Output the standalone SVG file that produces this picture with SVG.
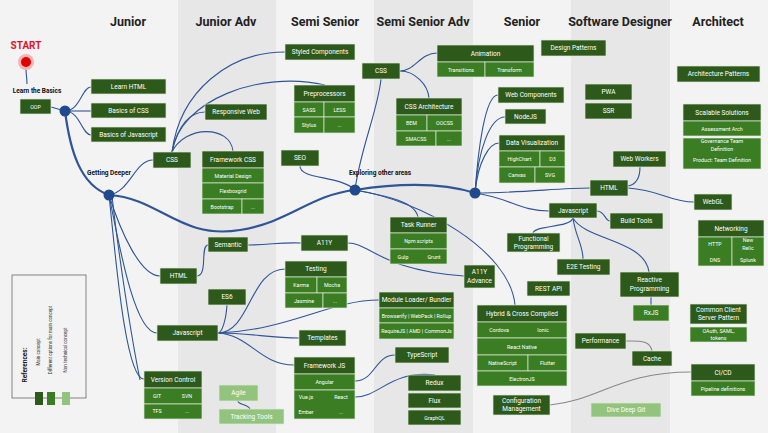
<svg xmlns="http://www.w3.org/2000/svg" width="768" height="433" viewBox="0 0 768 433">
<style>
.d{fill:#2d5a1b;stroke:#dfe8da;stroke-width:.7}
.m{fill:#3b7d23;stroke:#dfe8da;stroke-width:.7}
.l{fill:#93c47d;stroke:#dfe8da;stroke-width:.7}
text{font-family:Roboto,"Liberation Sans",sans-serif;fill:#fff;font-size:6.5px;text-anchor:middle;dominant-baseline:central}
.s{font-size:5.3px}
.h{font-size:12.5px;font-weight:bold;fill:#222}
.k{font-size:6.5px;font-weight:bold;fill:#111}
.c path{fill:none;stroke:#2f5597;stroke-width:1.1}
.c .sp{stroke-width:2.2}
.c .g{stroke:#888}
.hub{fill:#1f4a8c}
</style>
<rect width="768" height="433" fill="#f3f3f3"/>
<rect x="178" width="98" height="433" fill="#e7e7e7"/>
<rect x="374" width="99" height="433" fill="#e7e7e7"/>
<rect x="571" width="99" height="433" fill="#e7e7e7"/>
<g id="headers">
<text class="h" x="128" y="21">Junior</text>
<text class="h" x="226" y="21">Junior Adv</text>
<text class="h" x="325" y="21">Semi Senior</text>
<text class="h" x="423" y="21">Semi Senior Adv</text>
<text class="h" x="522" y="21">Senior</text>
<text class="h" x="620" y="21">Software Designer</text>
<text class="h" x="718" y="21">Architect</text>
</g>
<g class="c" id="connectors">
<path d="M26,68 C26,75 27,78 27,84"/>
<path class="sp" d="M65,111 C70,150 80,185 109,195"/>
<path class="sp" d="M109,195 C160,198 180,240 240,230 C290,222 310,195 355,190"/>
<path class="sp" d="M355,190 C400,183 440,182 475,193"/>
<path d="M51,107 L65,111"/>
<path d="M65,111 C80,111 82,87 91,87"/>
<path d="M65,111 L91,111"/>
<path d="M65,111 C80,111 82,135 91,135"/>
<path d="M109,195 C130,192 135,160 153,160"/>
<path d="M172,152 C180,90 230,52 285,52"/>
<path d="M172,152 C180,100 260,70 325,85"/>
<path d="M172,152 C178,125 190,112 205,112"/>
<path d="M172,152 C185,125 230,125 233,151"/>
<path d="M109,195 C120,230 140,276 160,276"/>
<path d="M109,195 C120,250 135,333 157,333"/>
<path d="M109,195 C115,250 125,379 144,379"/>
<path d="M112,196 C118,250 130,330 140,380"/>
<path d="M197,276 C208,276 200,245 208,245"/>
<path d="M248,245 C270,245 280,242 301,243"/>
<path d="M348,243 C370,243 380,270 464,276"/>
<path d="M227,305 C226,320 222,333 218,333"/>
<path d="M218,333 C250,333 250,269 285,269"/>
<path d="M218,333 C290,330 330,300 379,300"/>
<path d="M218,333 C250,333 270,338 299,338"/>
<path d="M218,333 C250,335 260,365 294,365"/>
<path d="M355,381 C375,381 375,355 395,355"/>
<path d="M355,397 C380,397 390,370 435,375"/>
<path d="M238,401 C238,405 248,404 250,409"/>
<path d="M300,166 C300,180 340,175 355,190"/>
<path d="M355,190 C360,150 378,110 381,79"/>
<path d="M400,71 C415,71 420,53 437,53"/>
<path d="M400,71 C415,71 428,85 429,98"/>
<path d="M355,190 C380,195 415,200 418,217"/>
<path d="M355,190 C420,200 510,250 515,305"/>
<path d="M475,193 C478,150 485,95 498,95"/>
<path d="M475,193 C478,150 490,117 505,117"/>
<path d="M475,193 C478,160 490,143 499,143"/>
<path d="M475,193 C520,193 560,188 590,188"/>
<path d="M628,188 C660,190 670,202 694,202"/>
<path d="M628,186 C638,184 640,175 640,167"/>
<path d="M475,193 C510,198 520,211 549,211"/>
<path d="M597,211 C605,211 605,221 610,221"/>
<path d="M573,218 C570,228 535,225 533,233"/>
<path d="M573,218 C575,235 583,245 583,259"/>
<path d="M573,218 C585,240 645,240 649,272"/>
<path d="M651,297 L651,305"/>
<path class="g" d="M626,341 C640,341 650,340 652,351"/>
<path class="g" d="M550,405 C600,400 620,372 691,372"/>
</g>
<g id="start"><text x="26" y="45" style="fill:#e0151f;font-weight:bold;font-size:10px">START</text><circle cx="26" cy="62" r="8" fill="#f5b5b5"/><circle cx="26" cy="62" r="5" fill="#e00000"/></g>
<g id="hubs"><circle class="hub" cx="65" cy="111" r="5.5"/><circle class="hub" cx="109" cy="195" r="5.5"/><circle class="hub" cx="355" cy="190" r="5.5"/><circle class="hub" cx="475" cy="193" r="5.5"/>
<text class="k" x="37" y="91">Learn the Basics</text><text class="k" x="109" y="173">Getting Deeper</text><text class="k" x="380" y="173">Exploring other areas</text></g>
<g id="oop"><rect class="d" x="20" y="99" width="31" height="15"/><text class="s" x="35.5" y="106.5">OOP</text></g>
<g id="learnhtml"><rect class="d" x="91" y="79" width="75" height="15"/><text x="128.5" y="86.5">Learn HTML</text></g>
<g id="basicscss"><rect class="d" x="91" y="103" width="75" height="15"/><text x="128.5" y="110.5">Basics of CSS</text></g>
<g id="basicsjs"><rect class="d" x="91" y="127" width="75" height="15"/><text x="128.5" y="134.5">Basics of Javascript</text></g>
<g id="css1"><rect class="d" x="153" y="152" width="38" height="16"/><text x="172" y="160">CSS</text></g>
<g id="fwcss"><rect class="d" x="202" y="151" width="62" height="17"/><text x="233" y="159.5">Framework CSS</text>
<rect class="m" x="202" y="168" width="62" height="15"/><text class="s" x="233" y="175.5">Material Design</text>
<rect class="m" x="202" y="183" width="62" height="16"/><text class="s" x="233" y="191">Flexboxgrid</text>
<rect class="m" x="202" y="199" width="40" height="15"/><text class="s" x="222" y="206.5">Bootstrap</text>
<rect class="m" x="242" y="199" width="22" height="15"/><text class="s" x="253" y="206.5">...</text></g>
<g id="responsive"><rect class="d" x="205" y="104" width="62" height="16"/><text x="236" y="112">Responsive Web</text></g>
<g id="styled"><rect class="d" x="285" y="44" width="70" height="16"/><text x="320" y="52">Styled Components</text></g>
<g id="preproc"><rect class="d" x="294" y="85" width="61" height="17"/><text x="324.5" y="93.5">Preprocessors</text>
<rect class="m" x="294" y="102" width="30" height="15"/><text class="s" x="309" y="109.5">SASS</text>
<rect class="m" x="324" y="102" width="31" height="15"/><text class="s" x="339.5" y="109.5">LESS</text>
<rect class="m" x="294" y="117" width="30" height="16"/><text class="s" x="309" y="125">Stylus</text>
<rect class="m" x="324" y="117" width="31" height="16"/><text class="s" x="339.5" y="125">...</text></g>
<g id="seo"><rect class="d" x="281" y="150" width="38" height="16"/><text x="300" y="158">SEO</text></g>
<g id="css2"><rect class="d" x="362" y="63" width="38" height="16"/><text x="381" y="71">CSS</text></g>
<g id="animation"><rect class="d" x="437" y="45" width="97" height="17"/><text x="485.5" y="53.5">Animation</text>
<rect class="m" x="437" y="62" width="48" height="15"/><text class="s" x="461" y="69.5">Transitions</text>
<rect class="m" x="485" y="62" width="49" height="15"/><text class="s" x="509.5" y="69.5">Transform</text></g>
<g id="cssarch"><rect class="d" x="396" y="98" width="66" height="17"/><text x="429" y="106.5">CSS Architecture</text>
<rect class="m" x="396" y="115" width="31" height="16"/><text class="s" x="411.5" y="123">BEM</text>
<rect class="m" x="427" y="115" width="35" height="16"/><text class="s" x="444.5" y="123">OOCSS</text>
<rect class="m" x="396" y="131" width="40" height="15"/><text class="s" x="416" y="138.5">SMACSS</text>
<rect class="m" x="436" y="131" width="26" height="15"/><text class="s" x="449" y="138.5">...</text></g>
<g id="designpatterns"><rect class="d" x="541" y="40" width="65" height="16"/><text x="573.5" y="48">Design Patterns</text></g>
<g id="webcomp"><rect class="d" x="498" y="87" width="66" height="16"/><text x="531" y="95">Web Components</text></g>
<g id="nodejs"><rect class="d" x="505" y="109" width="41" height="15"/><text x="525.5" y="116.5">NodeJS</text></g>
<g id="dataviz"><rect class="d" x="499" y="135" width="66" height="16"/><text x="532" y="143">Data Visualization</text>
<rect class="m" x="499" y="151" width="41" height="16"/><text class="s" x="519.5" y="159">HighChart</text>
<rect class="m" x="540" y="151" width="25" height="16"/><text class="s" x="552.5" y="159">D3</text>
<rect class="m" x="499" y="167" width="36" height="16"/><text class="s" x="517" y="175">Canvas</text>
<rect class="m" x="535" y="167" width="30" height="16"/><text class="s" x="550" y="175">SVG</text></g>
<g id="pwa"><rect class="d" x="585" y="84" width="47" height="16"/><text x="608.5" y="92">PWA</text></g>
<g id="ssr"><rect class="d" x="585" y="103" width="47" height="16"/><text x="608.5" y="111">SSR</text></g>
<g id="archpatterns"><rect class="d" x="677" y="66" width="83" height="16"/><text x="718.5" y="74">Architecture Patterns</text></g>
<g id="scalable"><rect class="d" x="683" y="104" width="78" height="17"/><text x="722" y="112.5">Scalable Solutions</text>
<rect class="m" x="683" y="121" width="78" height="15"/><text class="s" x="722" y="128.5">Assessment Arch</text>
<rect class="m" x="683" y="138" width="78" height="31"/><text class="s" x="722" y="141">Governance Team</text><text class="s" x="722" y="149">Definition</text><text class="s" x="722" y="160">Product: Team Definition</text></g>
<g id="webworkers"><rect class="d" x="613" y="151" width="53" height="16"/><text x="639.5" y="159">Web Workers</text></g>
<g id="html2"><rect class="d" x="590" y="180" width="38" height="16"/><text x="609" y="188">HTML</text></g>
<g id="webgl"><rect class="d" x="694" y="194" width="38" height="16"/><text x="713" y="202">WebGL</text></g>
<g id="js2"><rect class="d" x="549" y="203" width="48" height="15"/><text x="573" y="210.5">Javascript</text></g>
<g id="buildtools"><rect class="d" x="610" y="213" width="53" height="16"/><text x="636.5" y="221">Build Tools</text></g>
<g id="functional"><rect class="d" x="507" y="233" width="53" height="19"/><text x="533.5" y="238.5">Functional</text><text x="533.5" y="246.5">Programming</text></g>
<g id="e2e"><rect class="d" x="557" y="259" width="53" height="16"/><text x="583.5" y="267">E2E Testing</text></g>
<g id="reactive"><rect class="d" x="620" y="272" width="59" height="25"/><text x="649.5" y="280">Reactive</text><text x="649.5" y="289">Programming</text></g>
<g id="rxjs"><rect class="m" x="633" y="305" width="36" height="16"/><text x="651" y="313">RxJS</text></g>
<g id="networking"><rect class="d" x="698" y="220" width="66" height="17"/><text x="731" y="228.5">Networking</text>
<rect class="m" x="698" y="237" width="34" height="29"/><text class="s" x="715" y="244">HTTP</text><text class="s" x="715" y="260">DNS</text>
<rect class="m" x="732" y="237" width="32" height="29"/><text class="s" x="748" y="240">New</text><text class="s" x="748" y="248">Relic</text><text class="s" x="748" y="260">Splunk</text></g>
<g id="ccsp"><rect class="d" x="690" y="304" width="57" height="20"/><text x="718.5" y="310">Common Client</text><text x="718.5" y="318">Server Pattern</text>
<rect class="m" x="690" y="327" width="57" height="15"/><text class="s" x="718.5" y="331">OAuth, SAML,</text><text class="s" x="718.5" y="338">tokens</text></g>
<g id="restapi"><rect class="d" x="527" y="281" width="43" height="15"/><text x="548.5" y="288.5">REST API</text></g>
<g id="hybrid"><rect class="d" x="477" y="305" width="90" height="17"/><text x="522" y="313.5">Hybrid &amp; Cross Compiled</text>
<rect class="m" x="477" y="322" width="90" height="16"/><text class="s" x="499" y="330">Cordova</text><text class="s" x="543" y="330">Ionic</text>
<rect class="m" x="477" y="338" width="90" height="17"/><text class="s" x="522" y="346.5">React Native</text>
<rect class="m" x="477" y="355" width="51" height="16"/><text class="s" x="502.5" y="363">NativeScript</text>
<rect class="m" x="528" y="355" width="39" height="16"/><text class="s" x="547.5" y="363">Flutter</text>
<rect class="m" x="477" y="371" width="90" height="15"/><text class="s" x="522" y="378.5">ElectronJS</text></g>
<g id="performance"><rect class="d" x="575" y="333" width="51" height="16"/><text x="600.5" y="341">Performance</text></g>
<g id="cache"><rect class="d" x="632" y="351" width="40" height="15"/><text x="652" y="358.5">Cache</text></g>
<g id="cicd"><rect class="d" x="691" y="364" width="64" height="17"/><text x="723" y="372.5">CI/CD</text>
<rect class="m" x="691" y="381" width="64" height="15"/><text class="s" x="723" y="388.5">Pipeline definitions</text></g>
<g id="config"><rect class="d" x="493" y="395" width="57" height="20"/><text x="521.5" y="401">Configuration</text><text x="521.5" y="409">Management</text></g>
<g id="divegit"><rect class="l" x="591" y="403" width="70" height="14"/><text x="626" y="410">Dive Deep Git</text></g>
<g id="taskrunner"><rect class="d" x="390" y="217" width="57" height="16"/><text x="418.5" y="225">Task Runner</text>
<rect class="m" x="390" y="233" width="57" height="16"/><text class="s" x="418.5" y="241">Npm scripts</text>
<rect class="m" x="390" y="249" width="57" height="15"/><text class="s" x="403" y="256.5">Gulp</text><text class="s" x="434" y="256.5">Grunt</text></g>
<g id="a11yadv"><rect class="d" x="464" y="265" width="31" height="23"/><text x="479.5" y="272">A11Y</text><text x="479.5" y="281">Advance</text></g>
<g id="bundler"><rect class="d" x="379" y="292" width="75" height="16"/><text x="416.5" y="300">Module Loader/ Bundler</text>
<rect class="m" x="379" y="308" width="75" height="15"/><text class="s" x="416.5" y="315.5">Browserify | WebPack | Rollup</text>
<rect class="m" x="379" y="323" width="75" height="16"/><text class="s" x="416.5" y="331">RequireJS | AMD | CommonJs</text></g>
<g id="typescript"><rect class="d" x="395" y="347" width="54" height="16"/><text x="422" y="355">TypeScript</text></g>
<g id="redux"><rect class="d" x="408" y="375" width="53" height="16"/><text x="434.5" y="383">Redux</text></g>
<g id="flux"><rect class="d" x="408" y="393" width="53" height="15"/><text x="434.5" y="400.5">Flux</text></g>
<g id="graphql"><rect class="d" x="408" y="410" width="53" height="15"/><text class="s" x="434.5" y="417.5">GraphQL</text></g>
<g id="semantic"><rect class="d" x="208" y="237" width="40" height="15"/><text x="228" y="244.5">Semantic</text></g>
<g id="a11y"><rect class="d" x="301" y="235" width="47" height="16"/><text x="324.5" y="243">A11Y</text></g>
<g id="html1"><rect class="d" x="160" y="268" width="37" height="16"/><text x="178.5" y="276">HTML</text></g>
<g id="testing"><rect class="d" x="285" y="261" width="62" height="16"/><text x="316" y="269">Testing</text>
<rect class="m" x="285" y="277" width="32" height="16"/><text class="s" x="301" y="285">Karma</text>
<rect class="m" x="317" y="277" width="30" height="16"/><text class="s" x="332" y="285">Mocha</text>
<rect class="m" x="285" y="293" width="38" height="15"/><text class="s" x="304" y="300.5">Jasmine</text>
<rect class="m" x="323" y="293" width="24" height="15"/><text class="s" x="335" y="300.5">...</text></g>
<g id="es6"><rect class="d" x="208" y="289" width="38" height="16"/><text x="227" y="297">ES6</text></g>
<g id="js1"><rect class="d" x="157" y="325" width="61" height="16"/><text x="187.5" y="333">Javascript</text></g>
<g id="templates"><rect class="d" x="299" y="330" width="47" height="16"/><text x="322.5" y="338">Templates</text></g>
<g id="fwjs"><rect class="d" x="294" y="357" width="61" height="17"/><text x="324.5" y="365.5">Framework JS</text>
<rect class="m" x="294" y="374" width="61" height="16"/><text class="s" x="324.5" y="382">Angular</text>
<rect class="m" x="294" y="390" width="61" height="29"/><text class="s" x="306" y="397">Vue.js</text><text class="s" x="341" y="397">React</text><text class="s" x="306" y="412">Ember</text><text class="s" x="341" y="412">...</text></g>
<g id="vc"><rect class="d" x="144" y="371" width="58" height="17"/><text x="173" y="379.5">Version Control</text>
<rect class="m" x="144" y="388" width="58" height="16"/><text class="s" x="157" y="396">GIT</text><text class="s" x="187" y="396">SVN</text>
<rect class="m" x="144" y="404" width="58" height="15"/><text class="s" x="157" y="411">TFS</text><text class="s" x="187" y="411">...</text></g>
<g id="agile"><rect class="l" x="219" y="385" width="39" height="16"/><text x="238.5" y="393">Agile</text></g>
<g id="tracking"><rect class="l" x="219" y="409" width="65" height="15"/><text x="251.5" y="416.5">Tracking Tools</text></g>
<g id="legend"><rect x="12" y="275" width="74" height="123" fill="none" stroke="#666" stroke-width="0.8"/>
<text transform="translate(25,365) rotate(-90)" style="fill:#222;font-size:6.5px;font-weight:bold">References:</text>
<text transform="translate(38,352) rotate(-90)" class="s" style="fill:#333;font-size:4.5px">Main concept</text>
<text transform="translate(50,340) rotate(-90)" class="s" style="fill:#333;font-size:4.5px">Different options for main concept</text>
<text transform="translate(65,350) rotate(-90)" class="s" style="fill:#333;font-size:4.5px">Non technical concept</text>
<rect x="35" y="392" width="8" height="13" fill="#2d5a1b"/><rect x="47" y="392" width="8" height="13" fill="#3b7d23"/><rect x="62" y="392" width="8" height="13" fill="#93c47d"/></g>
</svg>
